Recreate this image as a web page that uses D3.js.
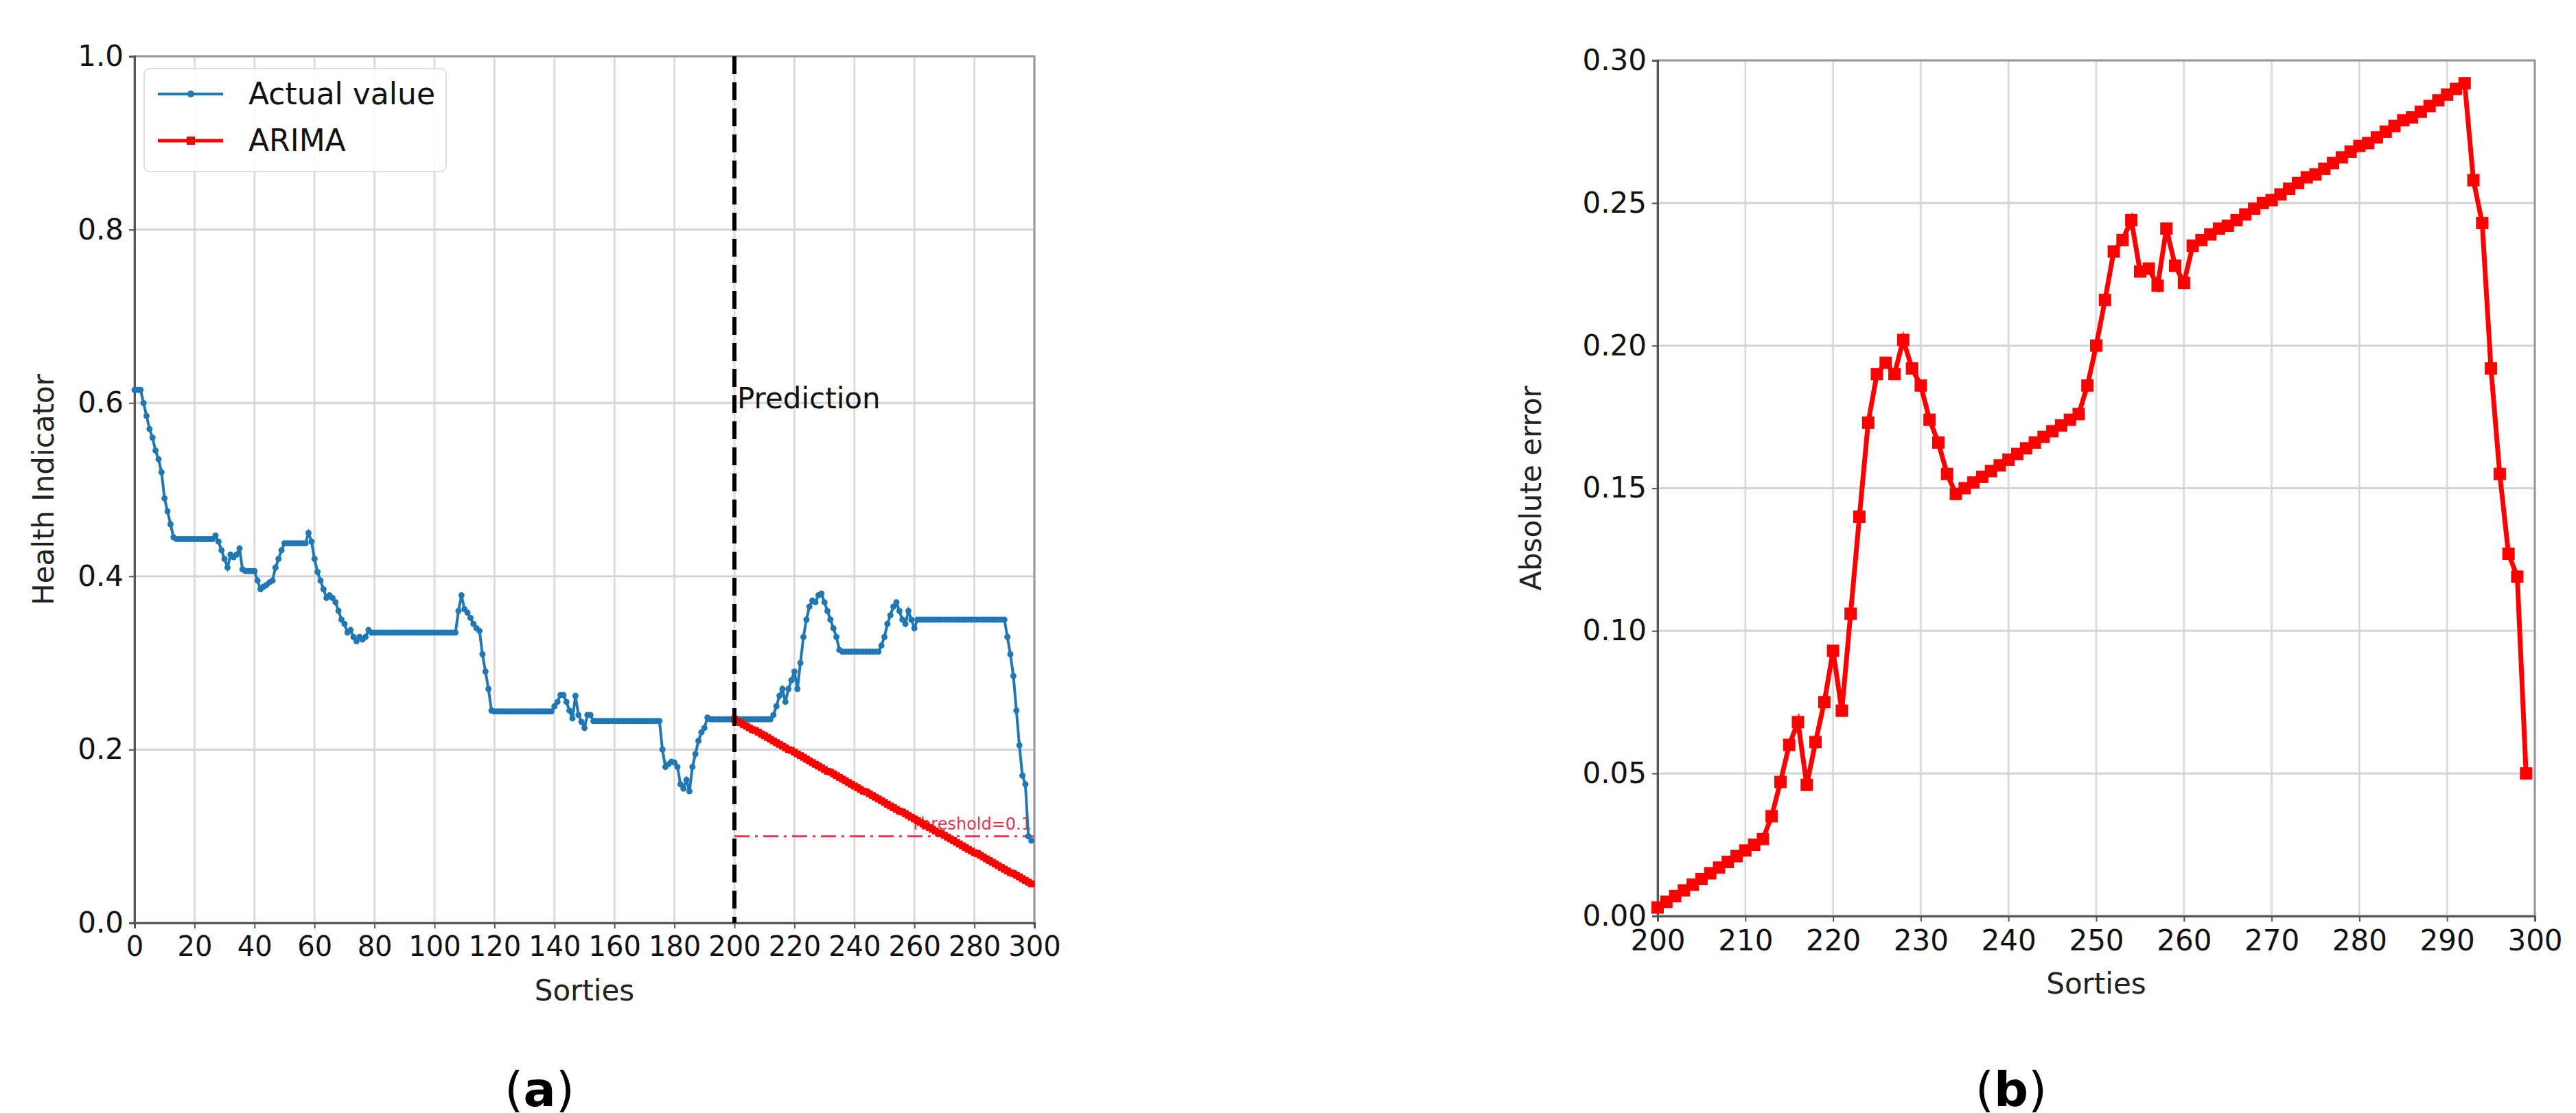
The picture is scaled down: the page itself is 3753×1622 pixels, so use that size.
<!DOCTYPE html>
<html><head><meta charset="utf-8">
<script src="https://cdn.jsdelivr.net/npm/d3@7"></script>
<style>body{margin:0;background:#fff}svg{display:block}text{font-family:"DejaVu Sans",sans-serif}</style>
</head><body>
<script>
// ---------- DATA ----------
const actualValues = [
0.615,0.615,0.615,0.600,0.585,0.570,0.560,0.545,0.535,0.520,
0.490,0.475,0.460,0.445,0.443,0.443,0.443,0.443,0.443,0.443,
0.443,0.443,0.443,0.443,0.443,0.443,0.443,0.447,0.440,0.430,
0.420,0.410,0.425,0.422,0.425,0.432,0.408,0.406,0.406,0.406,
0.406,0.395,0.385,0.388,0.390,0.393,0.395,0.410,0.420,0.430,
0.438,0.438,0.438,0.438,0.438,0.438,0.438,0.438,0.450,0.440,
0.420,0.405,0.395,0.385,0.375,0.378,0.375,0.370,0.360,0.350,
0.345,0.335,0.338,0.330,0.325,0.330,0.327,0.330,0.338,0.335,
0.335,0.335,0.335,0.335,0.335,0.335,0.335,0.335,0.335,0.335,
0.335,0.335,0.335,0.335,0.335,0.335,0.335,0.335,0.335,0.335,
0.335,0.335,0.335,0.335,0.335,0.335,0.335,0.335,0.360,0.378,
0.362,0.358,0.352,0.345,0.340,0.337,0.310,0.290,0.270,0.245,
0.244,0.244,0.244,0.244,0.244,0.244,0.244,0.244,0.244,0.244,
0.244,0.244,0.244,0.244,0.244,0.244,0.244,0.244,0.244,0.244,
0.250,0.255,0.263,0.263,0.255,0.245,0.236,0.262,0.240,0.232,
0.225,0.240,0.240,0.233,0.233,0.233,0.233,0.233,0.233,0.233,
0.233,0.233,0.233,0.233,0.233,0.233,0.233,0.233,0.233,0.233,
0.233,0.233,0.233,0.233,0.233,0.233,0.200,0.180,0.183,0.186,
0.185,0.180,0.160,0.155,0.165,0.152,0.180,0.195,0.210,0.220,
0.225,0.237,0.235,0.235,0.235,0.235,0.235,0.235,0.235,0.235,
0.235,0.235,0.235,0.235,0.235,0.235,0.235,0.235,0.235,0.235,
0.235,0.235,0.235,0.240,0.250,0.262,0.270,0.255,0.270,0.280,
0.290,0.270,0.300,0.330,0.350,0.365,0.372,0.370,0.378,0.380,
0.370,0.360,0.350,0.340,0.330,0.315,0.313,0.313,0.313,0.313,
0.313,0.313,0.313,0.313,0.313,0.313,0.313,0.313,0.313,0.320,
0.330,0.345,0.355,0.365,0.370,0.360,0.350,0.345,0.360,0.350,
0.340,0.350,0.350,0.350,0.350,0.350,0.350,0.350,0.350,0.350,
0.350,0.350,0.350,0.350,0.350,0.350,0.350,0.350,0.350,0.350,
0.350,0.350,0.350,0.350,0.350,0.350,0.350,0.350,0.350,0.350,
0.350,0.330,0.310,0.285,0.245,0.205,0.170,0.160,0.100,0.095];
const arimaStart = 200;
const arimaValues = [
0.235,0.233,0.231,0.229,0.227,0.225,0.223,0.222,0.220,0.218,
0.216,0.214,0.212,0.210,0.208,0.206,0.204,0.202,0.200,0.199,
0.197,0.195,0.193,0.191,0.189,0.187,0.185,0.183,0.181,0.179,
0.177,0.175,0.174,0.172,0.170,0.168,0.166,0.164,0.162,0.160,
0.158,0.156,0.154,0.152,0.151,0.149,0.147,0.145,0.143,0.141,
0.139,0.137,0.135,0.133,0.131,0.129,0.128,0.126,0.124,0.122,
0.120,0.118,0.116,0.114,0.112,0.110,0.108,0.106,0.104,0.103,
0.101,0.099,0.097,0.095,0.093,0.091,0.089,0.087,0.085,0.083,
0.081,0.080,0.078,0.076,0.074,0.072,0.070,0.068,0.066,0.064,
0.062,0.060,0.058,0.057,0.055,0.053,0.051,0.049,0.047,0.045];
const errorStart = 200;
const errorValues = [
0.003,0.005,0.007,0.009,0.011,0.013,0.015,0.017,0.019,0.021,
0.023,0.025,0.027,0.035,0.047,0.060,0.068,0.046,0.061,0.075,
0.093,0.072,0.106,0.140,0.173,0.190,0.194,0.190,0.202,0.192,
0.186,0.174,0.166,0.155,0.148,0.150,0.152,0.154,0.156,0.158,
0.160,0.162,0.164,0.166,0.168,0.170,0.172,0.174,0.176,0.186,
0.200,0.216,0.233,0.237,0.244,0.226,0.227,0.221,0.241,0.228,
0.222,0.235,0.237,0.239,0.241,0.242,0.244,0.246,0.248,0.250,
0.251,0.253,0.255,0.257,0.259,0.260,0.262,0.264,0.266,0.268,
0.270,0.271,0.273,0.275,0.277,0.279,0.280,0.282,0.284,0.286,
0.288,0.290,0.292,0.258,0.243,0.192,0.155,0.127,0.119,0.050];
const threshold = 0.1;
const predictionStart = 200;
const leftXTicks = d3.range(0, 301, 20);
const leftYTicks = [0, 0.2, 0.4, 0.6, 0.8, 1.0];
const rightXTicks = d3.range(200, 301, 10);
const rightYTicks = [0, 0.05, 0.10, 0.15, 0.20, 0.25, 0.30];
const seriesNames = ["Actual value", "ARIMA"];

// ---------- DRAW ----------
const W = 3753, H = 1622;
const svg = d3.select("body").append("svg").attr("width", W).attr("height", H);
const FS = 42;

function frame(x, y, xt, yt, fmt, L, R, T, B, xfs) {
  const g = svg.append("g");
  g.append("g").selectAll("line").data(xt).join("line")
    .attr("x1", d => x(d)).attr("x2", d => x(d)).attr("y1", T).attr("y2", B)
    .attr("stroke", "#dcdcdc").attr("stroke-width", 3);
  g.append("g").selectAll("line").data(yt).join("line")
    .attr("x1", L).attr("x2", R).attr("y1", d => y(d)).attr("y2", d => y(d))
    .attr("stroke", "#d4d4d4").attr("stroke-width", 3);
  g.append("rect").attr("x", L).attr("y", T).attr("width", R - L).attr("height", B - T)
    .attr("fill", "none").attr("stroke", "#9a9a9a").attr("stroke-width", 3);
  const ax = g.append("g").attr("transform", `translate(0,${B})`)
    .call(d3.axisBottom(x).tickValues(xt).tickSize(8).tickPadding(12).tickFormat(d3.format("d")));
  const ay = g.append("g").attr("transform", `translate(${L},0)`)
    .call(d3.axisLeft(y).tickValues(yt).tickSize(8).tickPadding(8).tickFormat(fmt));
  [ax, ay].forEach(a => {
    a.select(".domain").attr("stroke", "#555").attr("stroke-width", 3);
    a.selectAll(".tick line").attr("stroke", "#555").attr("stroke-width", 2);
    a.selectAll("text").attr("font-size", FS).attr("fill", "#111").attr("font-family", "DejaVu Sans");
  });
  ax.selectAll("text").attr("font-size", xfs);
  return g;
}

// Left chart
{
  const L = 196, R = 1507, T = 82, B = 1345;
  const x = d3.scaleLinear().domain([0, 300]).range([L, R]);
  const y = d3.scaleLinear().domain([0, 1]).range([B, T]);
  const g = frame(x, y, leftXTicks, leftYTicks, d3.format(".1f"), L, R, T, B, 40);
  const actual = actualValues.map((v, i) => [i, v]);
  const arima = arimaValues.map((v, i) => [arimaStart + i, v]);
  const line = d3.line().x(d => x(d[0])).y(d => y(d[1]));
  g.append("line").attr("x1", x(predictionStart)).attr("x2", x(300)).attr("y1", y(threshold)).attr("y2", y(threshold))
    .attr("stroke", "#e8354d").attr("stroke-width", 3).attr("stroke-dasharray", "22,8,4,8");
  g.append("text").attr("x", x(300) - 4).attr("y", y(threshold) - 10).attr("text-anchor", "end")
    .attr("font-size", 24).attr("fill", "#e8354d").text("Threshold=0.1");
  g.append("path").datum(actual).attr("d", line).attr("fill", "none").attr("stroke", "#1f77b4").attr("stroke-width", 4);
  g.append("g").selectAll("circle").data(actual).join("circle")
    .attr("cx", d => x(d[0])).attr("cy", d => y(d[1])).attr("r", 4.5).attr("fill", "#1f77b4");
  g.append("path").datum(arima).attr("d", line).attr("fill", "none").attr("stroke", "#ff0000").attr("stroke-width", 6);
  g.append("g").selectAll("rect").data(arima).join("rect")
    .attr("x", d => x(d[0]) - 5).attr("y", d => y(d[1]) - 5).attr("width", 10).attr("height", 10).attr("fill", "#ff0000");
  g.append("line").attr("x1", x(predictionStart)).attr("x2", x(predictionStart)).attr("y1", T).attr("y2", B)
    .attr("stroke", "#000").attr("stroke-width", 6).attr("stroke-dasharray", "26,12");
  g.append("text").attr("x", x(predictionStart) + 4).attr("y", y(0.6) + 8).attr("font-size", FS).attr("fill", "#111").text("Prediction");
  const lg = g.append("g");
  lg.append("rect").attr("x", 210).attr("y", 100).attr("width", 440).attr("height", 150).attr("rx", 8)
    .attr("fill", "#fff").attr("fill-opacity", 0.85).attr("stroke", "#dedede").attr("stroke-width", 2);
  const colors = ["#1f77b4", "#ff0000"];
  seriesNames.forEach((n, i) => {
    const yy = 137 + i * 68;
    lg.append("line").attr("x1", 230).attr("x2", 325).attr("y1", yy).attr("y2", yy).attr("stroke", colors[i]).attr("stroke-width", i ? 5 : 4);
    if (i === 0) lg.append("circle").attr("cx", 278).attr("cy", yy).attr("r", 5).attr("fill", colors[i]);
    else lg.append("rect").attr("x", 272).attr("y", yy - 6).attr("width", 12).attr("height", 12).attr("fill", colors[i]);
    lg.append("text").attr("x", 362).attr("y", yy + 15).attr("font-size", 44).attr("fill", "#111").text(n);
  });
  svg.append("text").attr("x", (L + R) / 2).attr("y", 1458).attr("text-anchor", "middle").attr("font-size", FS).attr("fill", "#222").text("Sorties");
  svg.append("text").attr("transform", `translate(78,${(T + B) / 2}) rotate(-90)`).attr("text-anchor", "middle").attr("font-size", FS).attr("fill", "#222").text("Health Indicator");
  svg.append("text").attr("x", 786).attr("y", 1612).attr("text-anchor", "middle").attr("font-size", 70).attr("font-family", "Liberation Serif").attr("fill", "#000")
    .html('(<tspan font-weight="bold">a</tspan>)');
}

// Right chart
{
  const L = 2415, R = 3693, T = 88, B = 1335;
  const x = d3.scaleLinear().domain([200, 300]).range([L, R]);
  const y = d3.scaleLinear().domain([0, 0.3]).range([B, T]);
  const g = frame(x, y, rightXTicks, rightYTicks, d3.format(".2f"), L, R, T, B, FS);
  const err = errorValues.map((v, i) => [errorStart + i, v]);
  const line = d3.line().x(d => x(d[0])).y(d => y(d[1]));
  g.append("path").datum(err).attr("d", line).attr("fill", "none").attr("stroke", "#ff0000").attr("stroke-width", 7);
  g.append("g").selectAll("rect").data(err).join("rect")
    .attr("x", d => x(d[0]) - 9).attr("y", d => y(d[1]) - 9).attr("width", 18).attr("height", 18).attr("fill", "#ff0000");
  svg.append("text").attr("x", (L + R) / 2).attr("y", 1448).attr("text-anchor", "middle").attr("font-size", FS).attr("fill", "#222").text("Sorties");
  svg.append("text").attr("transform", `translate(2245,${(T + B) / 2}) rotate(-90)`).attr("text-anchor", "middle").attr("font-size", FS).attr("fill", "#222").text("Absolute error");
  svg.append("text").attr("x", 2930).attr("y", 1612).attr("text-anchor", "middle").attr("font-size", 70).attr("font-family", "Liberation Serif").attr("fill", "#000")
    .html('(<tspan font-weight="bold">b</tspan>)');
}
</script>
</body></html>
